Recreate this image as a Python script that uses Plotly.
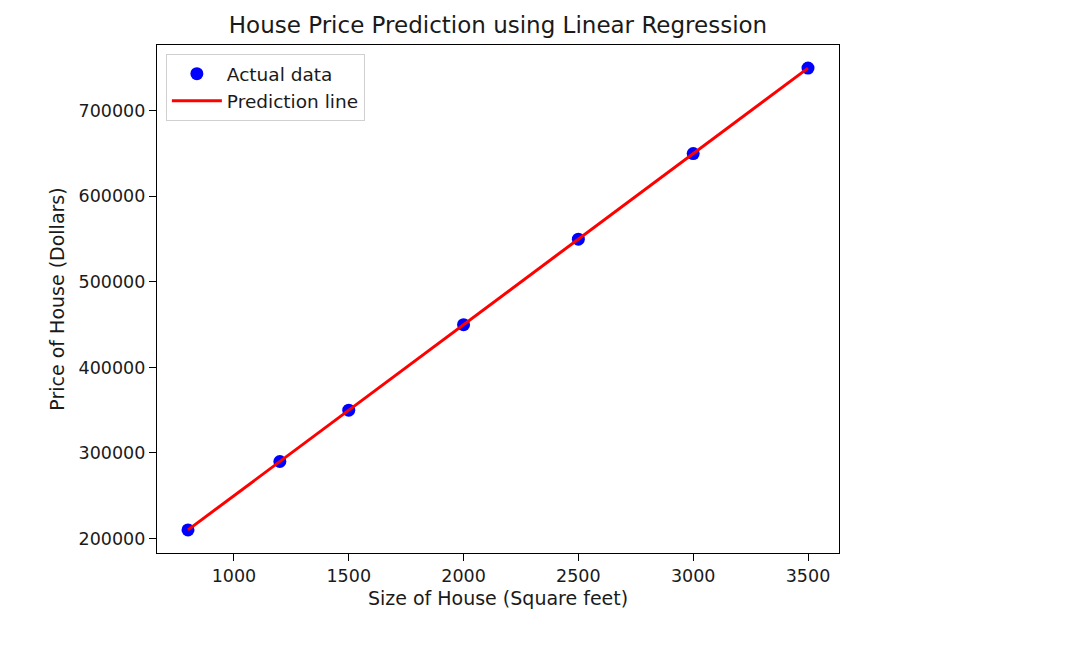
import plotly.graph_objects as go

sizes = [800, 1200, 1500, 2000, 2500, 3000, 3500]
prices = [210000, 290000, 350000, 450000, 550000, 650000, 750000]
predicted = [210000, 290000, 350000, 450000, 550000, 650000, 750000]
x_ticks = [1000, 1500, 2000, 2500, 3000, 3500]
y_ticks = [200000, 300000, 400000, 500000, 600000, 700000]

font = "DejaVu Sans"
txt = "#1a1a1a"
fig = go.Figure()
fig.add_trace(go.Scatter(x=sizes, y=prices, mode="markers", name="Actual data",
                         marker=dict(color="blue", size=13, line=dict(width=0))))
fig.add_trace(go.Scatter(x=sizes, y=predicted, mode="lines", name="Prediction line",
                         line=dict(color="red", width=3)))

axis_common = dict(showline=True, linecolor="black", linewidth=1.3, mirror=True,
                   ticks="outside", ticklen=7, tickwidth=1.3, tickcolor="black", showgrid=False,
                   zeroline=False, tickfont=dict(family=font, size=17.5, color=txt))

# page body has an 8px margin, so the figure is sized to fit the window
fig.update_layout(
    width=1072, height=637,
    paper_bgcolor="white", plot_bgcolor="white",
    margin=dict(l=149, r=241, t=37, b=92),
    title=dict(text="House Price Prediction using Linear Regression", x=0.5, xref="paper",
               xanchor="center", y=0.973, yanchor="middle",
               font=dict(family=font, size=23, color=txt)),
    xaxis=dict(range=[665, 3635], tickvals=x_ticks,
               title=dict(text="Size of House (Square feet)", font=dict(family=font, size=19, color=txt), standoff=6),
               **axis_common),
    yaxis=dict(range=[183000, 777000], tickvals=y_ticks, tickformat="d",
               title=dict(text="Price of House (Dollars)", font=dict(family=font, size=19, color=txt), standoff=8),
               **axis_common),
    legend=dict(x=0.013, y=0.982, xanchor="left", yanchor="top", itemwidth=50,
                bordercolor="#d0d0d0", borderwidth=1, bgcolor="rgba(255,255,255,0.8)",
                font=dict(family=font, size=18.5, color=txt)),
    showlegend=True,
)
fig.write_html("out.html")
